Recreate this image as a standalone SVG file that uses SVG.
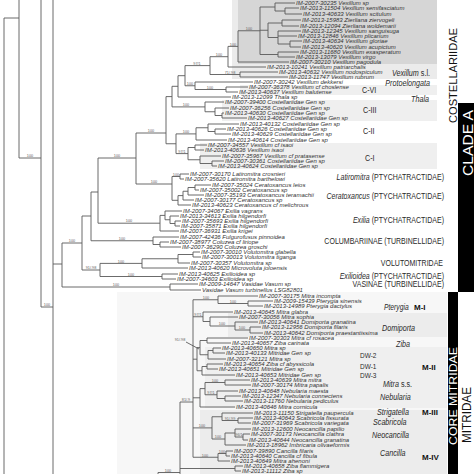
<svg xmlns="http://www.w3.org/2000/svg" width="474" height="474" viewBox="0 0 474 474">
<style>
.br{fill:none;stroke:#5a5a5a;stroke-width:0.9}
.tip{font-family:"Liberation Sans",Arial,sans-serif;font-size:6px;font-style:italic;fill:#333}
.bs{font-family:"Liberation Sans",Arial,sans-serif;font-size:3.8px;fill:#666;text-anchor:middle}
.grp{font-family:"Liberation Sans",Arial,sans-serif;font-size:9px;fill:#2a2a2a}
.dw{font-family:"Liberation Sans",Arial,sans-serif;font-size:7.6px;fill:#2a2a2a}
.it{font-style:italic}
.mb{font-family:"Liberation Sans",Arial,sans-serif;font-size:8px;font-weight:bold;fill:#111}
.vt{font-family:"Liberation Sans",Arial,sans-serif}
</style>
<rect width="474" height="474" fill="#fff"/>
<g id="shading">
<rect x="232" y="0" width="205" height="79" fill="#ebebeb"/>
<rect x="238" y="0" width="199" height="64" fill="#d6d6d6"/>
<rect x="240" y="85" width="197" height="10" fill="#efefef"/>
<rect x="222" y="100" width="215" height="21" fill="#efefef"/>
<rect x="200" y="143" width="237" height="26" fill="#efefef"/>
<rect x="117" y="292" width="330" height="182" fill="#f7f7f7"/>
<rect x="228" y="313" width="219" height="24" fill="#ececec"/>
<rect x="205" y="347" width="242" height="61" fill="#efefef"/>
<rect x="200" y="410" width="247" height="64" fill="#ececec"/>
</g>
<g id="bars">
<rect x="458" y="103" width="16" height="189" fill="#000"/>
<rect x="448" y="292" width="10" height="182" fill="#000"/>
<text class="vt" transform="translate(457,123) rotate(-90)" font-size="11.5" fill="#111" textLength="95" lengthAdjust="spacingAndGlyphs">COSTELLARIIDAE</text>
<text class="vt" transform="translate(472.5,176) rotate(-90)" font-size="15" fill="#fff" textLength="66" lengthAdjust="spacingAndGlyphs">CLADE A</text>
<text class="vt" transform="translate(457,445) rotate(-90)" font-size="11.5" fill="#fff" textLength="98" lengthAdjust="spacingAndGlyphs">CORE MITRIDAE</text>
<text class="vt" transform="translate(471,443) rotate(-90)" font-size="12" fill="#111" textLength="56" lengthAdjust="spacingAndGlyphs">MITRIDAE</text>
</g>
<g id="connectors" class="br">
<path d="M4 18V474M4 18H19M19 0V158M19 158H41M41 0V307M41 307H53M53 0V474M53 264H62"/>
<path d="M285 8V14M285 8H299M285 14H302M275 3V11M275 3H295M275 11H285M282 20V26M282 20H301M282 26H299M290 41V47M290 41H302M290 47H301M278 31V44M278 31H301M278 36H297M278 44H290M268 23V37.5M268 23H282M268 37.5H278M278 52V57M278 52H299M278 57H295M260 7V54.5M260 7H275M260 30.25H268M260 54.5H278M238 30.75V62M238 30.75H260M238 62H289"/>
<path d="M228 46.4V67M228 46.4H238M228 67H266M240 72V77M240 72H278M240 77H288M210 56.7V74.5M210 56.7H228M210 74.5H240M226 87V92M226 87H248M226 92H238M195 82V89.5M195 82H253M195 89.5H226M185 65.6V85.75M185 65.6H210M185 85.75H195M178 75.7V97M178 75.7H185M178 97H231"/>
<path d="M222 113V118M222 113H224M222 118H247M215 108V115.5M215 108H229M215 115.5H222M205 102V111.75M205 102H224M205 111.75H215M172 86.3V106.9M172 86.3H178M172 106.9H205"/>
<path d="M215 129V134M215 129H226M215 134H231M208 124V131.5M208 124H239M208 131.5H215M196 127.75V140M196 127.75H208M196 140H227M195 145V150M195 145H207M195 150H204M212 161V166M212 161H224M212 166H217M200 156V163.5M200 156H221M200 163.5H212M188 147.5V159.75M188 147.5H195M188 159.75H200M176 133.9V153.6M176 133.9H196M176 153.6H188M166 96.6V143.75M166 96.6H172M166 143.75H176M136 133V184M136 133H166M136 184H172"/>
<path d="M180 174V179M180 174H189M180 179H184M195 185V190M195 185H211M195 190H199M188 187.5V195M188 187.5H195M188 195H204M183 191.25V200M183 191.25H188M183 200H194M178 195.6V205M178 195.6H183M178 205H191M172 176.5V200.3M172 176.5H180M172 200.3H178"/>
<path d="M175 221V226M175 221H181M175 226H180M170 216V223.5M170 216H179M170 223.5H175M165 211V219.75M165 211H182M165 219.75H170M160 215.4V231M160 215.4H165M160 231H179M98 158V223.2M98 158H136M98 223.2H160"/>
<path d="M160 242V247M160 242H169M160 247H181M153 237V244.5M153 237H179M153 244.5H160M91 192V240.75M91 192H98M91 240.75H153"/>
<path d="M193 252V257M193 252H200M193 257H201M178 254.5V263M178 254.5H193M178 263H190M142 258.75V268M142 258.75H178M142 268H188M162 274V279M162 274H178M162 279H176M100 263.4V276.5M100 263.4H142M100 276.5H162M82 216V270M82 216H91M82 270H100M170 284V290M170 284H198M170 290H201M62 243V287M62 243H82M62 287H170"/>
<path d="M248 301V306M248 301H273M248 306H263M218 296V303.5M218 296H258M218 303.5H248M250 327V333M250 327H261M250 333H263M235 322V330M235 322H258M235 330H250M210 317V326M210 317H238M210 326H235M203 312V321.5M203 312H233M203 321.5H210"/>
<path d="M207 338V343M207 338H248M207 343H231M213 348V353M213 348H221M213 353H225M208 350.5V359M208 350.5H213M208 359H226M200 340.5V354.75M200 340.5H207M200 354.75H208M207 364V369M207 364H223M207 369H218M202 366.5V375M202 366.5H207M202 375H235M197 347.6V370.75M197 347.6H200M197 370.75H202"/>
<path d="M225 380V385M225 380H250M225 385H251M225 396V401M225 396H241M225 401H243M217 391V398.5M217 391H238M217 398.5H225M205 382.5V394.75M205 382.5H225M205 394.75H217M200 388.6V407M200 388.6H205M200 407H235"/>
<path d="M238 418V423M238 418H253M238 423H251M222 413V420.5M222 413H253M222 420.5H238M243 434V440M243 434H250M243 440H248M235 429V437M235 429H251M235 437H243M225 433V445M225 433H235M225 445H246M212 416.75V439M212 416.75H222M212 439H225M226 451V456M226 451H233M226 456H230M218 453.5V461M218 453.5H226M218 461H230"/>
<path d="M193 299.75V457.25M193 299.75H218M193 316.75H203M193 359.2H197M193 397.8H200M193 427.9H212M193 457.25H218M180 402V474M180 402H193M180 468.5H235M235 466V471M235 466H243M235 471H241M158 472.5H180M158 472.5V474"/>
<path d="M186 342L199 349"/>
</g>
<g id="support">
<text class="bs" x="30" y="157">100</text>
<text class="bs" x="47" y="306">100</text>
<text class="bs" x="72" y="242">100</text>
<text class="bs" x="116" y="286">100</text>
<text class="bs" x="121" y="262.5">100</text>
<text class="bs" x="122" y="240">100</text>
<text class="bs" x="91" y="269">91/.98</text>
<text class="bs" x="117" y="157">100</text>
<text class="bs" x="151" y="132">100</text>
<text class="bs" x="154" y="183">100</text>
<text class="bs" x="129" y="222.4">100</text>
<text class="bs" x="131" y="275.6">100</text>
<text class="bs" x="249" y="30">100</text>
<text class="bs" x="233" y="45.6">100</text>
<text class="bs" x="219" y="55.9">100</text>
<text class="bs" x="230" y="73.7">71/.98</text>
<text class="bs" x="197" y="64.8">97/1</text>
<text class="bs" x="190" y="85">100</text>
<text class="bs" x="210" y="88.7">100</text>
<text class="bs" x="176" y="175.7">100</text>
<text class="bs" x="186" y="106.1">100</text>
<text class="bs" x="186" y="133.1">100</text>
<text class="bs" x="182" y="152.8">97/1</text>
<text class="bs" x="206" y="299">100</text>
<text class="bs" x="233" y="302.7">100</text>
<text class="bs" x="198" y="316">97/1</text>
<text class="bs" x="222" y="325.2">100</text>
<text class="bs" x="242" y="329.2">100</text>
<text class="bs" x="180" y="341">91/.98</text>
<text class="bs" x="186" y="401">81/.9</text>
<text class="bs" x="168" y="471.5">100</text>
<text class="bs" x="205" y="456.5">100</text>
<text class="bs" x="222" y="452.7">100</text>
<text class="bs" x="202" y="427">100</text>
<text class="bs" x="215" y="381.7">100</text>
<text class="bs" x="211" y="393.9">97/1</text>
<text class="bs" x="230" y="419.7">91/.99</text>
<text class="bs" x="218" y="438.2">100</text>
<text class="bs" x="239" y="436.2">96/1</text>
</g>
<g id="tips">
<g id="t1"><text class="tip" x="296" y="5.2">IM-2007-30235 Vexillum sp</text></g>
<g id="t2"><text class="tip" x="300" y="10.2">IM-2013-11504 Vexillum semifasciatum</text></g>
<g id="t3"><text class="tip" x="303" y="16.2">IM-2013-40633 Vexillum scitulum</text></g>
<g id="t4"><text class="tip" x="302" y="22.2">IM-2013-15983 Zierliana ziervogeli</text></g>
<g id="t5"><text class="tip" x="300" y="28.2">IM-2013-12094 Zierliana woldemarii</text></g>
<g id="t6"><text class="tip" x="302" y="33.2">IM-2013-12345 Vexillum sanguisuga</text></g>
<g id="t7"><text class="tip" x="298" y="38.2">IM-2013-12846 Vexillum plicarium</text></g>
<g id="t8"><text class="tip" x="303" y="43.2">IM-2013-40634 Vexillum gloriae</text></g>
<g id="t9"><text class="tip" x="302" y="49.2">IM-2013-40620 Vexillum acupictum</text></g>
<g id="t10"><text class="tip" x="300" y="54.2">IM-2013-11680 Vexillum exasperatum</text></g>
<g id="t11"><text class="tip" x="296" y="59.2">IM-2013-13079 Vexillum virgo</text></g>
<g id="t12"><text class="tip" x="290" y="64.2">IM-2007-30210 Vexillum pagodula</text></g>
<g id="t13"><text class="tip" x="267" y="69.2">IM-2013-10241 Vexillum patriarchalis</text></g>
<g id="t14"><text class="tip" x="279" y="74.2">IM-2013-40632 Vexillum nodospiculum</text></g>
<g id="t15"><text class="tip" x="289" y="79.2">IM-2013-11747 Vexillum rubrum</text></g>
<g id="t16"><text class="tip" x="254" y="84.2">IM-2007-30242 Vexillum dekkersi</text></g>
<g id="t17"><text class="tip" x="249" y="89.2">IM-2007-36378 Vexillum cf choslense</text></g>
<g id="t18"><text class="tip" x="239" y="94.2">IM-2013-40637 Vexillum balutense</text></g>
<g id="t19"><text class="tip" x="232" y="99.2">IM-2013-12099 Thala sp</text></g>
<g id="t20"><text class="tip" x="225" y="104.2">IM-2007-39400 Costellariidae Gen sp</text></g>
<g id="t21"><text class="tip" x="230" y="110.2">IM-2007-36256 Costellariidae Gen sp</text></g>
<g id="t22"><text class="tip" x="225" y="115.2">IM-2013-40630 Costellariidae Gen sp</text></g>
<g id="t23"><text class="tip" x="248" y="120.2">IM-2013-40627 Costellariidae Gen sp</text></g>
<g id="t24"><text class="tip" x="240" y="126.2">IM-2013-40132 Costellariidae Gen sp</text></g>
<g id="t25"><text class="tip" x="227" y="131.2">IM-2013-40626 Costellariidae Gen sp</text></g>
<g id="t26"><text class="tip" x="232" y="136.2">IM-2013-40629 Costellariidae Gen sp</text></g>
<g id="t27"><text class="tip" x="228" y="142.2">IM-2013-40614 Costellariidae Gen sp</text></g>
<g id="t28"><text class="tip" x="208" y="147.2">IM-2007-34557 Vexillum cf isaoi</text></g>
<g id="t29"><text class="tip" x="205" y="152.2">IM-2013-40636 Vexillum isaoi</text></g>
<g id="t30"><text class="tip" x="222" y="158.2">IM-2007-35967 Vexillum cf pratasense</text></g>
<g id="t31"><text class="tip" x="225" y="163.2">IM-2007-30361 Costellariidae Gen sp</text></g>
<g id="t32"><text class="tip" x="218" y="168.2">IM-2013-40624 Costellariidae Gen sp</text></g>
<g id="t33"><text class="tip" x="190" y="176.2">IM-2007-30170 Latiromitra crosnieri</text></g>
<g id="t34"><text class="tip" x="185" y="181.2">IM-2007-35620 Latiromitra barthelowi</text></g>
<g id="t35"><text class="tip" x="212" y="187.2">IM-2007-35024 Ceratoxancus leios</text></g>
<g id="t36"><text class="tip" x="200" y="192.2">IM-2007-35002 Ceratoxancus sp</text></g>
<g id="t37"><text class="tip" x="205" y="197.2">IM-2007-35193 Ceratoxancus teramachii</text></g>
<g id="t38"><text class="tip" x="195" y="202.2">IM-2007-30177 Ceratoxancus sp</text></g>
<g id="t39"><text class="tip" x="192" y="207.2">IM-2013-40623 Ceratoxancus cf melichrous</text></g>
<g id="t40"><text class="tip" x="183" y="213.2">IM-2007-34067 Exilia vagrans</text></g>
<g id="t41"><text class="tip" x="180" y="218.2">IM-2013-34613 Exilia hilgendorfi</text></g>
<g id="t42"><text class="tip" x="182" y="223.2">IM-2007-35693 Exilia hilgendorfi</text></g>
<g id="t43"><text class="tip" x="181" y="228.2">IM-2007-35871 Exilia hilgendorfi</text></g>
<g id="t44"><text class="tip" x="180" y="233.2">IM-2007-36931 Exilia krigei</text></g>
<g id="t45"><text class="tip" x="180" y="239.2">IM-2007-42436 Fulgurofusus pinnoidea</text></g>
<g id="t46"><text class="tip" x="170" y="244.2">IM-2007-38977 Coluzea cf liriope</text></g>
<g id="t47"><text class="tip" x="182" y="249.2">IM-2007-36290 Coluzea groschi</text></g>
<g id="t48"><text class="tip" x="201" y="254.2">IM-2007-30010 Volutomitra glabella</text></g>
<g id="t49"><text class="tip" x="202" y="259.2">IM-2007-30013 Volutomitra tiganga</text></g>
<g id="t50"><text class="tip" x="191" y="265.2">IM-2007-30357 Volutomitra sp</text></g>
<g id="t51"><text class="tip" x="189" y="270.2">IM-2013-40620 Microvoluta joloensis</text></g>
<g id="t52"><text class="tip" x="179" y="276.2">IM-2013-40625 Exilioidea sp</text></g>
<g id="t53"><text class="tip" x="177" y="281.2">IM-2007-34603 Exilioidea sp</text></g>
<g id="t54"><text class="tip" x="199" y="286.2">IM-2009-14647 Vasidae Vasum sp</text></g>
<g id="t55"><text class="tip" x="202" y="292.2">Vasidae Vasum turbinellus LSG82801</text></g>
<g id="m1"><text class="tip" x="259" y="298.2">IM-2007-30175 Mitra incompta</text></g>
<g id="m2"><text class="tip" x="274" y="303.2">IM-2009-15439 Pterygia sinensis</text></g>
<g id="m3"><text class="tip" x="264" y="308.2">IM-2013-14989 Pterygia dactylus</text></g>
<g id="m4"><text class="tip" x="234" y="314.2">IM-2013-40645 Mitra glabra</text></g>
<g id="m5"><text class="tip" x="239" y="319.2">IM-2007-30056 Mitra sophia</text></g>
<g id="m6"><text class="tip" x="259" y="324.2">IM-2013-40641 Domiporta granatina</text></g>
<g id="m7"><text class="tip" x="262" y="329.2">IM-2013-12956 Domiporta filaris</text></g>
<g id="m8"><text class="tip" x="264" y="335.2">IM-2013-40642 Domiporta praestantissima</text></g>
<g id="m9"><text class="tip" x="249" y="340.2">IM-2007-30303 Mitra cf rosacea</text></g>
<g id="m10"><text class="tip" x="232" y="345.2">IM-2013-40657 Ziba carinata</text></g>
<g id="m11"><text class="tip" x="222" y="350.2">IM-2013-40650 Mitra sp</text></g>
<g id="m12"><text class="tip" x="226" y="355.2">IM-2013-40133 Mitridae Gen sp</text></g>
<g id="m13"><text class="tip" x="227" y="361.2">IM-2007-32121 Mitra sp</text></g>
<g id="m14"><text class="tip" x="224" y="366.2">IM-2013-40654 Ziba cf abyssicola</text></g>
<g id="m15"><text class="tip" x="219" y="371.2">IM-2013-40651 Mitridae Gen sp</text></g>
<g id="m16"><text class="tip" x="236" y="377.2">IM-2013-40653 Mitridae Gen sp</text></g>
<g id="m17"><text class="tip" x="251" y="382.2">IM-2013-40639 Mitra mitra</text></g>
<g id="m18"><text class="tip" x="252" y="387.2">IM-2007-30174 Mitra papalis</text></g>
<g id="m19"><text class="tip" x="239" y="393.2">IM-2013-40648 Nebularia maesta</text></g>
<g id="m20"><text class="tip" x="242" y="398.2">IM-2013-12347 Nebularia connectens</text></g>
<g id="m21"><text class="tip" x="244" y="403.2">IM-2013-11760 Nebularia pediculus</text></g>
<g id="m22"><text class="tip" x="236" y="409.2">IM-2013-40646 Mitra cornicula</text></g>
<g id="m23"><text class="tip" x="254" y="415.2">IM-2013-11150 Strigatella paupercula</text></g>
<g id="m24"><text class="tip" x="254" y="420.2">IM-2013-40643 Scabricola fissurata</text></g>
<g id="m25"><text class="tip" x="252" y="425.2">IM-2007-31969 Scabricola variegata</text></g>
<g id="m26"><text class="tip" x="252" y="431.2">IM-2013-12600 Neocancilla papilio</text></g>
<g id="m27"><text class="tip" x="251" y="436.2">IM-2007-30173 Neocancilla clathra</text></g>
<g id="m28"><text class="tip" x="249" y="442.2">IM-2013-40644 Neocancilla granatina</text></g>
<g id="m29"><text class="tip" x="247" y="447.2">IM-2013-18962 Imbricaria olivaeformis</text></g>
<g id="m30"><text class="tip" x="234" y="453.2">IM-2007-39890 Cancilla filaris</text></g>
<g id="m31"><text class="tip" x="231" y="458.2">IM-2013-40640 Cancilla cf fibula</text></g>
<g id="m32"><text class="tip" x="231" y="463.2">IM-2013-40649 Mitra ahenoni</text></g>
<g id="m33"><text class="tip" x="244" y="468.2">IM-2013-40658 Ziba flammigera</text></g>
<g id="m34"><text class="tip" x="242" y="473.2">IM-2013-11112 Ziba sp</text></g>
</g>
<g id="groups">
<g id="g-vexsl"><text class="grp" transform="translate(430,75.5) scale(0.8,1)" text-anchor="end"><tspan class="it">Vexillum</tspan> s.l.</text></g>
<g id="g-proto"><text class="grp it" transform="translate(430,85.5) scale(0.8,1)" text-anchor="end">Protoelongata</text></g>
<g id="g-c6"><text class="grp" transform="translate(362,93.2) scale(0.8,1)">C-VI</text></g>
<g id="g-thala"><text class="grp it" transform="translate(429,101.5) scale(0.8,1)" text-anchor="end">Thala</text></g>
<g id="g-c3"><text class="grp" transform="translate(363,113.2) scale(0.8,1)">C-III</text></g>
<g id="g-c2"><text class="grp" transform="translate(363,134.2) scale(0.8,1)">C-II</text></g>
<g id="g-c1"><text class="grp" transform="translate(365,161.2) scale(0.8,1)">C-I</text></g>
<g id="g-lat"><text class="grp" transform="translate(444,179.5) scale(0.78,1)" text-anchor="end"><tspan class="it">Latiromitra</tspan> (PTYCHATRACTIDAE)</text></g>
<g id="g-cer"><text class="grp" transform="translate(444,198.5) scale(0.78,1)" text-anchor="end"><tspan class="it">Ceratoxancus</tspan> (PTYCHATRACTIDAE)</text></g>
<g id="g-exi"><text class="grp" transform="translate(444,222.5) scale(0.78,1)" text-anchor="end"><tspan class="it">Exilia</tspan> (PTYCHATRACTIDAE)</text></g>
<g id="g-col"><text class="grp" transform="translate(444,244.2) scale(0.78,1)" text-anchor="end">COLUMBARIINAE (TURBINELLIDAE)</text></g>
<g id="g-vol"><text class="grp" transform="translate(443,265.5) scale(0.78,1)" text-anchor="end">VOLUTOMITRIDAE</text></g>
<g id="g-exo"><text class="grp" transform="translate(444,278.5) scale(0.78,1)" text-anchor="end"><tspan class="it">Exilioidea</tspan> (PTYCHATRACTIDAE)</text></g>
<g id="g-vas"><text class="grp" transform="translate(444,287) scale(0.78,1)" text-anchor="end">VASINAE (TURBINELLIDAE)</text></g>
<g id="g-pte"><text class="grp it" transform="translate(384,310) scale(0.75,1)">Pterygia</text><text class="mb" x="414" y="310">M-I</text></g>
<g id="g-dom"><text class="grp it" transform="translate(382,331) scale(0.8,1)">Domiporta</text></g>
<g id="g-ziba"><text class="grp it" transform="translate(396,347) scale(0.8,1)">Ziba</text></g>
<g id="g-dw2"><text class="dw" transform="translate(360,358) scale(0.85,1)">DW-2</text></g>
<g id="g-dw1"><text class="dw" transform="translate(360,369.3) scale(0.85,1)">DW-1</text><text class="mb" x="422" y="370">M-II</text></g>
<g id="g-dw3"><text class="dw" transform="translate(360,377.8) scale(0.85,1)">DW-3</text></g>
<g id="g-mss"><text class="grp" transform="translate(383,387.2) scale(0.8,1)"><tspan class="it">Mitra</tspan> s.s.</text></g>
<g id="g-neb"><text class="grp it" transform="translate(380,400.2) scale(0.8,1)">Nebularia</text></g>
<g id="g-str"><text class="grp it" transform="translate(377,415.2) scale(0.8,1)">Strigatella</text><text class="mb" x="422" y="415">M-III</text></g>
<g id="g-sca"><text class="grp it" transform="translate(373,425.2) scale(0.8,1)">Scabricola</text></g>
<g id="g-neo"><text class="grp it" transform="translate(372,438.2) scale(0.8,1)">Neocancilla</text></g>
<g id="g-can"><text class="grp it" transform="translate(380,456.2) scale(0.8,1)">Cancilla</text><text class="mb" x="422" y="460">M-IV</text></g>
</g>
</svg>
